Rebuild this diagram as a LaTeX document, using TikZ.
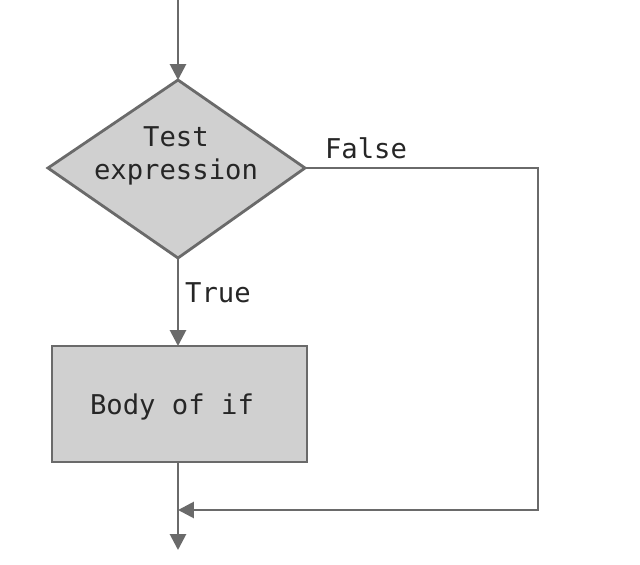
\documentclass[tikz,border=0pt]{standalone}
\usepackage{fontspec}
\setmonofont{DejaVu Sans Mono}
\usetikzlibrary{shapes.geometric,arrows.meta}
\definecolor{boxfill}{HTML}{D0D0D0}
\definecolor{edge}{HTML}{6A6A6A}
\tikzset{
  lbl/.style={font=\ttfamily\fontsize{15.5}{19}\selectfont, text=black!85},
  conn/.style={draw=edge, line width=1.6pt, -{Triangle[length=9pt,width=9pt]}},
  plain/.style={draw=edge, line width=1.6pt},
}
\begin{document}
\begin{tikzpicture}[x=0.02cm,y=-0.02cm]
\useasboundingbox (0,0) rectangle (640,565);
\fill[white] (0,0) rectangle (640,565);
\coordinate (top) at (178,0);
\draw[fill=boxfill, draw=edge, line width=1.6pt] (178,80) -- (305,168) -- (178,258) -- (48,168) -- cycle;
\coordinate (dt) at (178,80);
\coordinate (dr) at (305,168);
\coordinate (db) at (178,258);
\node[lbl, align=center] (test) at (176,156) {Test\\expression};
\draw[fill=boxfill, draw=edge, line width=1.6pt] (52,346) rectangle (307,462);
\coordinate (rt) at (178,346);
\coordinate (rb) at (178,462);
\node[lbl] (body) at (172,407) {Body of if};
\node[lbl] (false) at (366,148) {False};
\node[lbl] (true) at (218,293) {True};
\coordinate (c1) at (538,168);
\coordinate (c2) at (538,510);
\coordinate (m) at (178,510);
\coordinate (end) at (178,550);
\draw[conn] (top) -- (dt);
\draw[conn] (db) -- (rt);
\draw[conn] (rb) -- (end);
\draw[plain] (dr) -- (c1) -- (c2) -- (181,510);
\draw[conn] (c2) -- (m);
\end{tikzpicture}
\end{document}
